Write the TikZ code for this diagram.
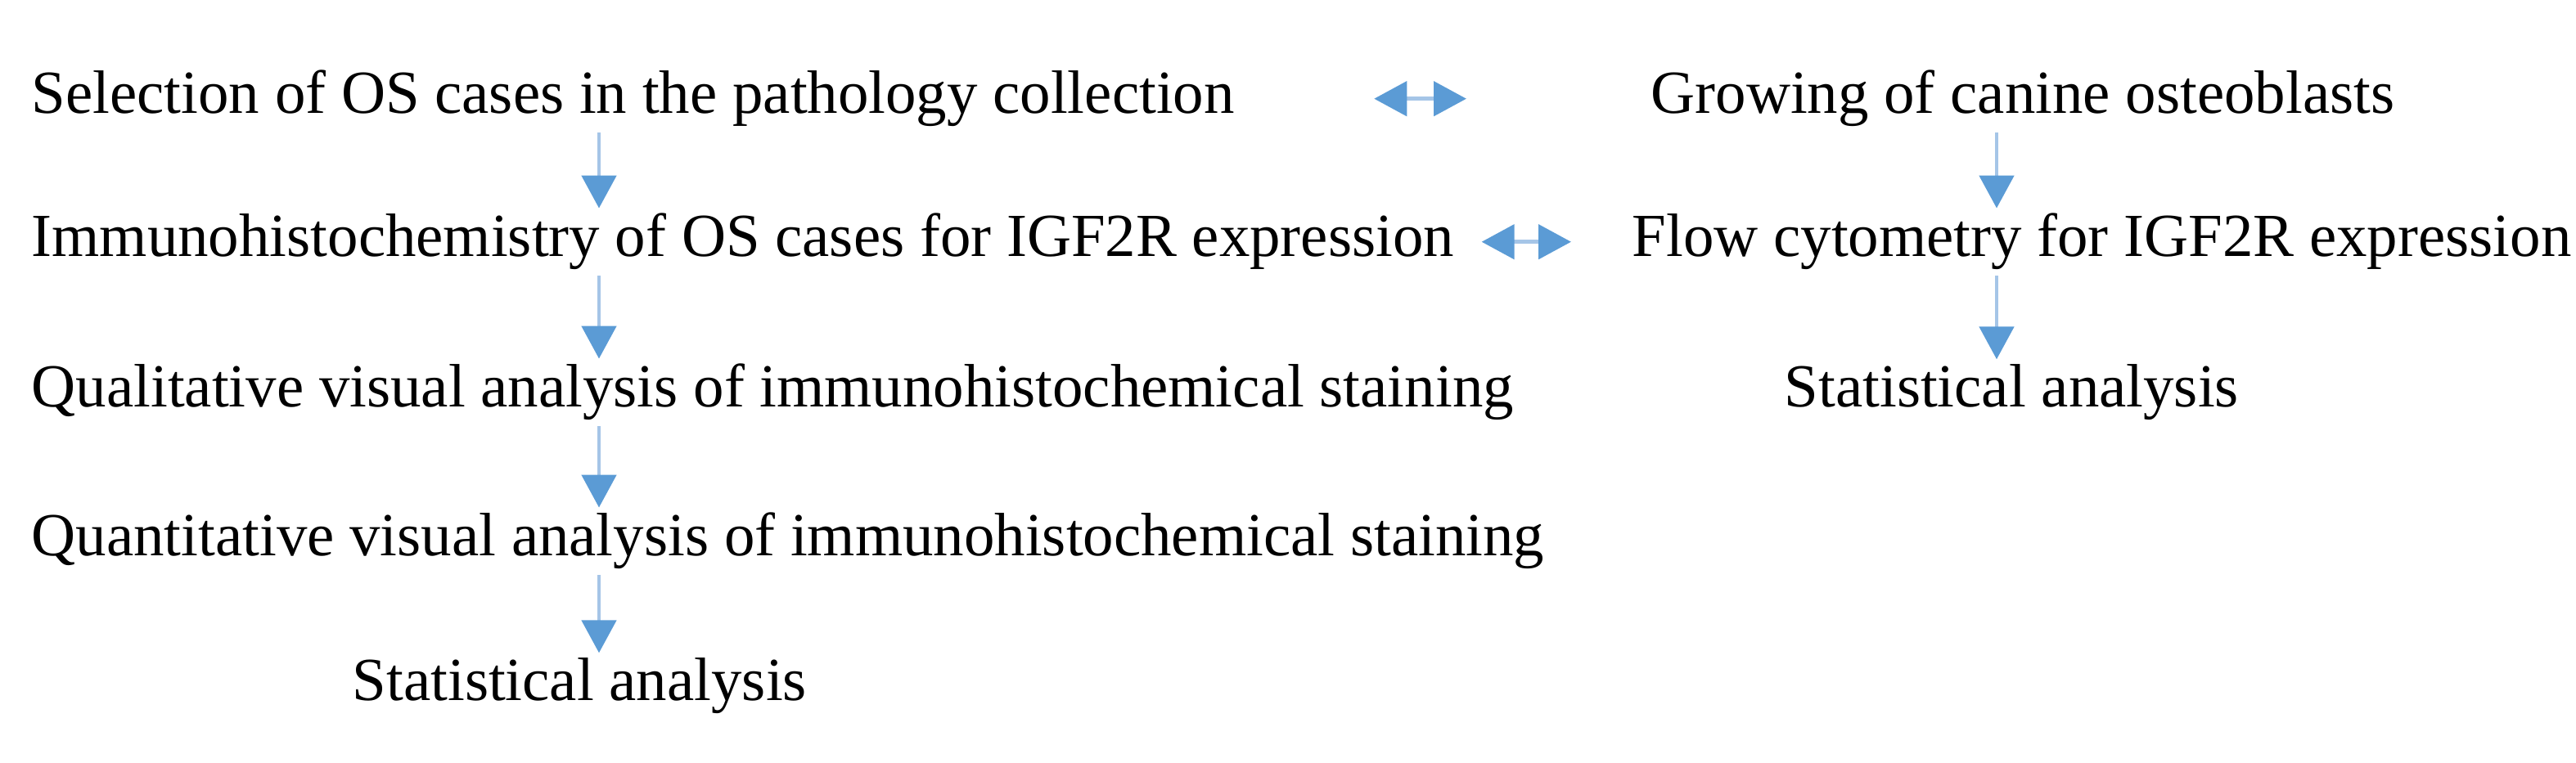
\documentclass[tikz,border=0pt]{standalone}
\usepackage{fontspec}
\setmainfont{Liberation Serif}
\usetikzlibrary{arrows.meta}
\definecolor{arrowblue}{RGB}{91,155,213}
\definecolor{shaftblue}{RGB}{165,197,231}

\begin{document}
\begin{tikzpicture}[
		steptext/.style={anchor=base west, inner sep=0pt, font=\fontsize{21.3}{25}\selectfont},
		downarrow/.style={draw=shaftblue, line width=1.4pt, -{Triangle[length=0.4cm,width=0.42cm,color=arrowblue]}, shorten <=0.06cm, shorten >=0.06cm},
		botharrow/.style={draw=shaftblue, line width=1.4pt, {Triangle[length=0.4cm,width=0.42cm,color=arrowblue]}-{Triangle[length=0.4cm,width=0.42cm,color=arrowblue]}}
	]
		\useasboundingbox (0,0) rectangle (31.48,-9.33);
		\coordinate (leftcol) at (7.32,0);
		\coordinate (rightcol) at (24.40,0);
		\node[steptext] (selection) at (0.38,-1.39) {Selection of OS cases in the pathology collection};
		\node[steptext] (growing) at (20.17,-1.39) {Growing of canine osteoblasts};
		\node[steptext] (immuno) at (0.38,-3.14) {Immunohistochemistry of OS cases for IGF2R expression};
		\node[steptext] (flowcyt) at (19.94,-3.14) {Flow cytometry for IGF2R expression};
		\node[steptext] (qualitative) at (0.38,-4.98) {Qualitative visual analysis of immunohistochemical staining};
		\node[steptext] (statright) at (21.80,-4.98) {Statistical analysis};
		\node[steptext] (quantitative) at (0.38,-6.80) {Quantitative visual analysis of immunohistochemical staining};
		\node[steptext] (statleft) at (4.30,-8.57) {Statistical analysis};
		\draw[downarrow] (selection.south -| leftcol) -- (immuno.north -| leftcol);
		\draw[downarrow] (immuno.south -| leftcol) -- (qualitative.north -| leftcol);
		\draw[downarrow] (qualitative.south -| leftcol) -- (quantitative.north -| leftcol);
		\draw[downarrow] (quantitative.south -| leftcol) -- (statleft.north -| leftcol);
		\draw[downarrow] (growing.south -| rightcol) -- (flowcyt.north -| rightcol);
		\draw[downarrow] (flowcyt.south -| rightcol) -- (statright.north -| rightcol);
		\draw[botharrow] ([xshift=1.70cm]selection.east) -- ([xshift=-2.25cm]growing.west);
		\draw[botharrow] ([xshift=0.33cm]immuno.east) -- ([xshift=-0.74cm]flowcyt.west);
\end{tikzpicture}
\end{document}
